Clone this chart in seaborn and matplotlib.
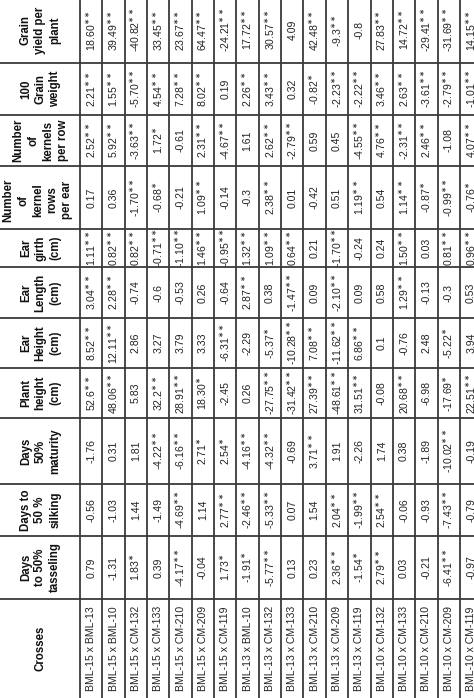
import matplotlib
matplotlib.use("Agg")
import matplotlib.pyplot as plt
import seaborn as sns

sns.set_theme(style="white")
plt.rcParams['font.family'] = ['Liberation Sans', 'DejaVu Sans']

crosses = ["BML-15 x BML-13", "BML-15 x BML-10", "BML-15 x CM-132", "BML-15 x CM-133",
           "BML-15 x CM-210", "BML-15 x CM-209", "BML-15 x CM-119",
           "BML-13 x BML-10", "BML-13 x CM-132", "BML-13 x CM-133", "BML-13 x CM-210",
           "BML-13 x CM-209", "BML-13 x CM-119",
           "BML-10 x CM-132", "BML-10 x CM-133", "BML-10 x CM-210", "BML-10 x CM-209",
           "BML-10 x CM-119"]

headers = ["Crosses", "Days\nto 50%\ntasseling", "Days to\n50 %\nsilking", "Days\n50%\nmaturity",
           "Plant\nheight\n(cm)", "Ear\nHeight\n(cm)", "Ear\nLength\n(cm)", "Ear\ngirth\n(cm)",
           "Number\nof\nkernel\nrows\nper ear", "Number\nof\nkernels\nper row", "100\nGrain\nweight",
           "Grain\nyield per\nplant"]

tasseling = ["0.79", "-1.31", "1.83*", "0.39", "-4.17**", "-0.04", "1.73*", "-1.91*", "-5.77**",
             "0.13", "0.23", "2.36**", "-1.54*", "2.79**", "0.03", "-0.21", "-6.41**", "-0.97"]
silking = ["-0.56", "-1.03", "1.44", "-1.49", "-4.69**", "1.14", "2.77**", "-2.46**", "-5.33**",
           "0.07", "1.54", "2.04**", "-1.99**", "2.54**", "-0.06", "-0.93", "-7.43**", "-0.79"]
maturity = ["-1.76", "0.31", "1.81", "-4.22**", "-6.16**", "2.71*", "2.54*", "-4.16**", "-4.32**",
            "-0.69", "3.71**", "1.91", "-2.26", "1.74", "0.38", "-1.89", "-10.02**", "-0.19"]
plant_height = ["52.6**", "48.06**", "5.83", "32.2**", "28.91**", "18.30*", "-2.45", "0.26", "-27.75**",
                "-31.42**", "27.39**", "-48.61**", "31.51**", "-0.08", "20.68**", "-6.98", "-17.69*", "22.51**"]
ear_height = ["8.52**", "12.11**", "2.86", "3.27", "3.79", "3.33", "-6.31**", "-2.29", "-5.37*",
              "-10.28**", "7.08**", "-11.62**", "6.86**", "0.1", "-0.76", "2.48", "-5.22*", "3.94"]
ear_length = ["3.04**", "2.28**", "-0.74", "-0.6", "-0.53", "0.26", "-0.64", "2.87**", "0.38",
              "-1.47**", "0.09", "-2.10**", "0.09", "0.58", "1.29**", "-0.13", "-0.3", "0.53"]
ear_girth = ["1.11**", "0.82**", "0.82**", "-0.71**", "-1.10**", "1.46**", "-0.95**", "1.32**", "1.09**",
             "0.64**", "0.21", "-1.70**", "-0.24", "0.24", "1.50**", "0.03", "0.81**", "0.96**"]
kernel_rows = ["0.17", "0.36", "-1.70**", "-0.68*", "-0.21", "1.09**", "-0.14", "-0.3", "2.38**",
               "0.01", "-0.42", "0.51", "1.19**", "0.54", "1.14**", "-0.87*", "-0.99**", "-0.76*"]
kernels_row = ["2.52**", "5.92**", "-3.63**", "1.72*", "-0.61", "2.31**", "-4.67**", "1.61", "2.62**",
               "-2.79**", "0.59", "0.45", "-4.55**", "4.76**", "-2.31**", "2.46**", "-1.08", "4.07**"]
grain_weight = ["2.21**", "1.55**", "-5.70**", "4.54**", "7.28**", "8.02**", "0.19", "2.26**", "3.43**",
                "0.32", "-0.82*", "-2.23**", "-2.22**", "3.46**", "2.63**", "-3.61**", "-2.79**", "-1.01**"]
grain_yield = ["18.60**", "39.49**", "-40.82**", "33.45**", "23.67**", "64.47**", "-24.21**", "17.72**",
               "30.57**", "4.09", "42.48**", "-9.3**", "-0.8", "27.83**", "14.72**", "-29.41**",
               "-31.69**", "14.15**"]

columns = [crosses, tasseling, silking, maturity, plant_height, ear_height, ear_length,
           ear_girth, kernel_rows, kernels_row, grain_weight, grain_yield]

W, H = 474, 698
col_bounds = [698, 599, 536, 484, 418, 368, 318, 267, 229, 166, 115, 63, -40]
hdr_x0, hdr_x1 = -5, 80
row_w = 22.35

fig = plt.figure(figsize=(W / 100, H / 100), dpi=100)
ax = fig.add_axes([0, 0, 1, 1])
ax.set_xlim(0, W)
ax.set_ylim(H, 0)
ax.axis("off")

n = len(crosses)
x_end = hdr_x1 + row_w * n
lc = "#3a3a3a"
for yb in col_bounds[1:-1]:
    ax.plot([hdr_x0, x_end], [yb, yb], color=lc, lw=1.3)
for i in range(n + 1):
    xb = hdr_x1 + row_w * i
    ax.plot([xb, xb], [H + 5, -40], color=lc, lw=1.3)


def fmt(v):
    stars = len(v) - len(v.rstrip("*"))
    if stars:
        return v.rstrip("*") + r"$^{" + r"\ast" * stars + "}$"
    return v


for j, (hdr, vals) in enumerate(zip(headers, columns)):
    yc = (col_bounds[j] + col_bounds[j + 1]) / 2
    if j == len(headers) - 1:
        yc = 30
    hx = (hdr_x0 + hdr_x1) / 2 + 3
    if j == 8:
        hx = 38
        yc = 200
    ax.text(hx, yc, hdr, rotation=90, ha="center", va="center",
            multialignment="center", fontsize=8.3, fontweight="bold", linespacing=1.3,
            rotation_mode="anchor", color="#111111")
    for i, v in enumerate(vals):
        xc = hdr_x1 + row_w * (i + 0.5)
        ax.text(xc, yc if j != 8 else (col_bounds[j] + col_bounds[j + 1]) / 2, fmt(v),
                rotation=90, ha="center", va="center", fontsize=7.6,
                rotation_mode="anchor", color="#222222")

fig.savefig("out.png", dpi=100, facecolor="white")
